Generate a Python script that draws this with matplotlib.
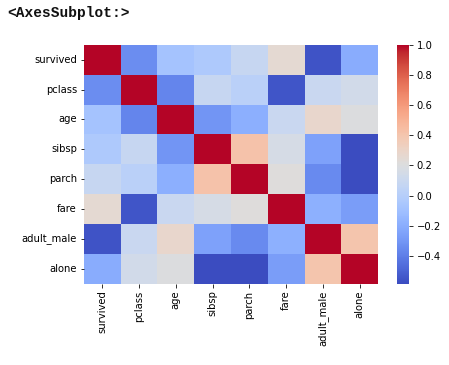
import numpy as np
import matplotlib
matplotlib.use("Agg")
import matplotlib.pyplot as plt
import seaborn as sns

cols = ["survived", "pclass", "age", "sibsp", "parch", "fare", "adult_male", "alone"]

# correlations, row by row
survived = [1.0, -0.338, -0.077, -0.035, 0.082, 0.257, -0.557, -0.203]
pclass = [-0.338, 1.0, -0.369, 0.083, 0.018, -0.550, 0.094, 0.135]
age = [-0.077, -0.369, 1.0, -0.308, -0.189, 0.096, 0.280, 0.198]
sibsp = [-0.035, 0.083, -0.308, 1.0, 0.415, 0.160, -0.254, -0.584]
parch = [0.082, 0.018, -0.189, 0.415, 1.0, 0.216, -0.350, -0.583]
fare = [0.257, -0.550, 0.096, 0.160, 0.216, 1.0, -0.182, -0.272]
adult_male = [-0.557, 0.094, 0.280, -0.254, -0.350, -0.182, 1.0, 0.405]
alone = [-0.203, 0.135, 0.198, -0.584, -0.583, -0.272, 0.405, 1.0]

corr = np.array([survived, pclass, age, sibsp, parch, fare, adult_male, alone])

fig = plt.figure(figsize=(449 / 72, 365 / 72), dpi=72)
ax = fig.add_axes([0.187, 0.223, 0.655, 0.654])
cax = fig.add_axes([0.884, 0.223, 0.028, 0.654])

sns.heatmap(corr, cmap="coolwarm", xticklabels=cols, yticklabels=cols,
            ax=ax, cbar_ax=cax)
ax.tick_params(labelsize=10)
cax.tick_params(labelsize=10)

fig.text(0.016, 0.983, "<AxesSubplot:>", family="Liberation Mono",
         fontsize=14.5, weight="bold", color="#111111", va="top", ha="left")

fig.savefig("out.png", dpi=72)
